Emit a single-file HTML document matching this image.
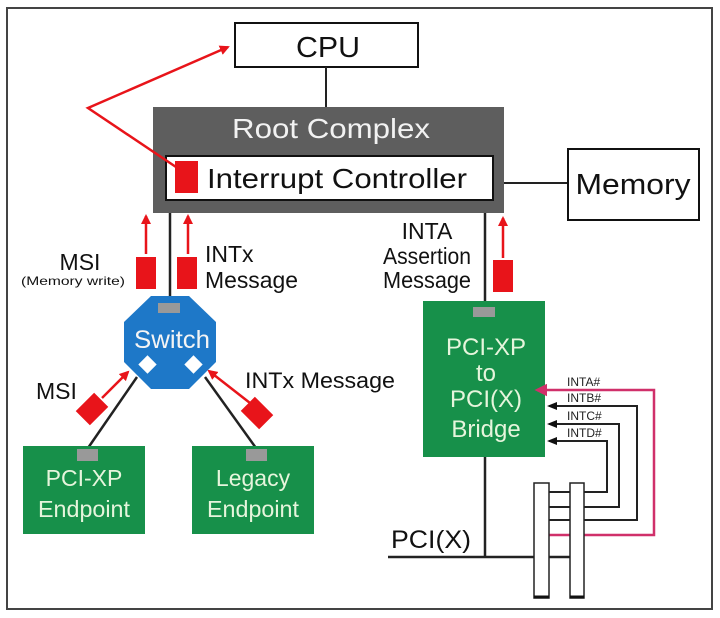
<!DOCTYPE html>
<html><head><meta charset="utf-8"><style>
html,body{margin:0;padding:0;background:#fff;}
svg{display:block;font-family:"Liberation Sans",sans-serif;}
</style></head><body>
<svg width="720" height="618" viewBox="0 0 720 618" xmlns="http://www.w3.org/2000/svg">
<defs>
<marker id="ar" viewBox="0 0 10 10" refX="8" refY="5" markerWidth="4" markerHeight="4" orient="auto"><path d="M0,0L10,5L0,10z" fill="#e8141a"/></marker>
<marker id="am" viewBox="0 0 10 10" refX="8" refY="5" markerWidth="5" markerHeight="5" orient="auto"><path d="M0,0L10,5L0,10z" fill="#d0306a"/></marker>
<marker id="ab" viewBox="0 0 10 10" refX="8" refY="5" markerWidth="5" markerHeight="5" orient="auto"><path d="M0,1L10,5L0,9z" fill="#111"/></marker>
</defs>
<rect x="7" y="8" width="705" height="601" fill="#fff" stroke="#444" stroke-width="2"/>
<!-- CPU -->
<rect x="235" y="23" width="183" height="44" fill="#fff" stroke="#111" stroke-width="2"/>
<text x="328" y="57" font-size="29" text-anchor="middle" fill="#111" textLength="64" lengthAdjust="spacingAndGlyphs">CPU</text>
<line x1="326" y1="67" x2="326" y2="107" stroke="#222" stroke-width="2"/>
<!-- Root complex -->
<rect x="153" y="107" width="351" height="106" fill="#5e5e5e"/>
<text x="331" y="138" font-size="28" text-anchor="middle" fill="#f2f2f2" textLength="198" lengthAdjust="spacingAndGlyphs">Root Complex</text>
<rect x="166" y="156" width="327" height="44" fill="#fff" stroke="#111" stroke-width="2"/>
<rect x="175" y="161" width="23" height="32" fill="#e8141a"/>
<text x="337" y="188" font-size="28" text-anchor="middle" fill="#111" textLength="260" lengthAdjust="spacingAndGlyphs">Interrupt Controller</text>
<line x1="504" y1="183" x2="568" y2="183" stroke="#222" stroke-width="2"/>
<rect x="568" y="149" width="131" height="71" fill="#fff" stroke="#111" stroke-width="2"/>
<text x="633" y="194" font-size="29" text-anchor="middle" fill="#111" textLength="115" lengthAdjust="spacingAndGlyphs">Memory</text>
<polyline points="176,167 88,108 228,47" fill="none" stroke="#e8141a" stroke-width="2.5" marker-end="url(#ar)"/>
<!-- switch uplink -->
<line x1="170" y1="213" x2="170" y2="297" stroke="#222" stroke-width="2.5"/>
<line x1="146" y1="254" x2="146" y2="216" stroke="#e8141a" stroke-width="2.5" marker-end="url(#ar)"/>
<rect x="136" y="257" width="20" height="32" fill="#e8141a"/>
<line x1="188" y1="254" x2="188" y2="216" stroke="#e8141a" stroke-width="2.5" marker-end="url(#ar)"/>
<rect x="177" y="257" width="20" height="32" fill="#e8141a"/>
<text x="80" y="270" font-size="23" text-anchor="middle" fill="#111">MSI</text>
<text x="73" y="285" font-size="12" text-anchor="middle" fill="#111" textLength="104" lengthAdjust="spacingAndGlyphs">(Memory write)</text>
<text x="205" y="262" font-size="23" fill="#111">INTx</text>
<text x="205" y="288" font-size="23" fill="#111" textLength="93" lengthAdjust="spacingAndGlyphs">Message</text>
<!-- switch -->
<line x1="137" y1="377" x2="88" y2="448" stroke="#222" stroke-width="2.5"/>
<line x1="205" y1="377" x2="256" y2="448" stroke="#222" stroke-width="2.5"/>
<polygon points="151,296 189,296 216,322 216,362 189,389 151,389 124,362 124,322" fill="#1e78c8"/>
<rect x="158" y="303" width="22" height="10" fill="#999"/>
<text x="172" y="348" font-size="25" text-anchor="middle" fill="#f4f4f4" textLength="76" lengthAdjust="spacingAndGlyphs">Switch</text>
<rect x="141" y="358" width="13" height="13" fill="#fff" transform="rotate(45 147.5 364.5)"/>
<rect x="187" y="358" width="13" height="13" fill="#fff" transform="rotate(45 193.5 364.5)"/>
<line x1="102" y1="398" x2="128" y2="372" stroke="#e8141a" stroke-width="2.5" marker-end="url(#ar)"/>
<rect x="82" y="396" width="20" height="26" fill="#e8141a" transform="rotate(45 92 409)"/>
<line x1="250" y1="403" x2="209" y2="371" stroke="#e8141a" stroke-width="2.5" marker-end="url(#ar)"/>
<rect x="247" y="400" width="20" height="26" fill="#e8141a" transform="rotate(-45 257 413)"/>
<text x="36" y="399" font-size="23" fill="#111">MSI</text>
<text x="245" y="388" font-size="22" fill="#111" textLength="150" lengthAdjust="spacingAndGlyphs">INTx Message</text>
<!-- endpoints -->
<rect x="23" y="446" width="122" height="88" fill="#17904a"/>
<rect x="77" y="449" width="21" height="12" fill="#999"/>
<text x="84" y="486" font-size="23" text-anchor="middle" fill="#e6f5dc">PCI-XP</text>
<text x="84" y="517" font-size="23" text-anchor="middle" fill="#e6f5dc" textLength="92" lengthAdjust="spacingAndGlyphs">Endpoint</text>
<rect x="192" y="446" width="122" height="88" fill="#17904a"/>
<rect x="246" y="449" width="21" height="12" fill="#999"/>
<text x="253" y="486" font-size="23" text-anchor="middle" fill="#e6f5dc">Legacy</text>
<text x="253" y="517" font-size="23" text-anchor="middle" fill="#e6f5dc" textLength="92" lengthAdjust="spacingAndGlyphs">Endpoint</text>
<!-- bridge -->
<line x1="485" y1="213" x2="485" y2="557" stroke="#222" stroke-width="2.5"/>
<line x1="503" y1="258" x2="503" y2="218" stroke="#e8141a" stroke-width="2.5" marker-end="url(#ar)"/>
<rect x="493" y="260" width="20" height="32" fill="#e8141a"/>
<text x="427" y="239" font-size="23" text-anchor="middle" fill="#111">INTA</text>
<text x="427" y="264" font-size="23" text-anchor="middle" fill="#111" textLength="88" lengthAdjust="spacingAndGlyphs">Assertion</text>
<text x="427" y="288" font-size="23" text-anchor="middle" fill="#111" textLength="88" lengthAdjust="spacingAndGlyphs">Message</text>
<rect x="423" y="301" width="122" height="156" fill="#17904a"/>
<rect x="473" y="307" width="22" height="10" fill="#999"/>
<text x="486" y="355" font-size="24" text-anchor="middle" fill="#e6f5dc">PCI-XP</text>
<text x="486" y="381" font-size="24" text-anchor="middle" fill="#e6f5dc">to</text>
<text x="486" y="407" font-size="24" text-anchor="middle" fill="#e6f5dc">PCI(X)</text>
<text x="486" y="437" font-size="24" text-anchor="middle" fill="#e6f5dc">Bridge</text>
<!-- bus -->
<line x1="388" y1="557" x2="572" y2="557" stroke="#222" stroke-width="2.5"/>
<text x="391" y="548" font-size="25" fill="#111" textLength="80" lengthAdjust="spacingAndGlyphs">PCI(X)</text>
<!-- INT lines -->
<polyline points="549,492 607,492 607,441 549,441" fill="none" stroke="#222" stroke-width="2" marker-end="url(#ab)"/>
<polyline points="549,507 619,507 619,424 549,424" fill="none" stroke="#222" stroke-width="2" marker-end="url(#ab)"/>
<polyline points="549,520 637,520 637,406 549,406" fill="none" stroke="#222" stroke-width="2" marker-end="url(#ab)"/>
<polyline points="549,535 654,535 654,390 537,390" fill="none" stroke="#d0306a" stroke-width="2.5" marker-end="url(#am)"/>
<text x="567" y="386" font-size="12" fill="#222">INTA#</text>
<text x="567" y="402" font-size="12" fill="#222">INTB#</text>
<text x="567" y="420" font-size="12" fill="#222">INTC#</text>
<text x="567" y="437" font-size="12" fill="#222">INTD#</text>
<!-- slots -->
<rect x="534" y="483" width="15" height="115" fill="#fff" stroke="#222" stroke-width="1.5"/>
<rect x="570" y="483" width="14" height="115" fill="#fff" stroke="#222" stroke-width="1.5"/>
<line x1="534" y1="597" x2="549" y2="597" stroke="#111" stroke-width="3"/>
<line x1="570" y1="597" x2="584" y2="597" stroke="#111" stroke-width="3"/>
<line x1="549" y1="492" x2="570" y2="492" stroke="#222" stroke-width="1.5"/>
</svg>
</body></html>
